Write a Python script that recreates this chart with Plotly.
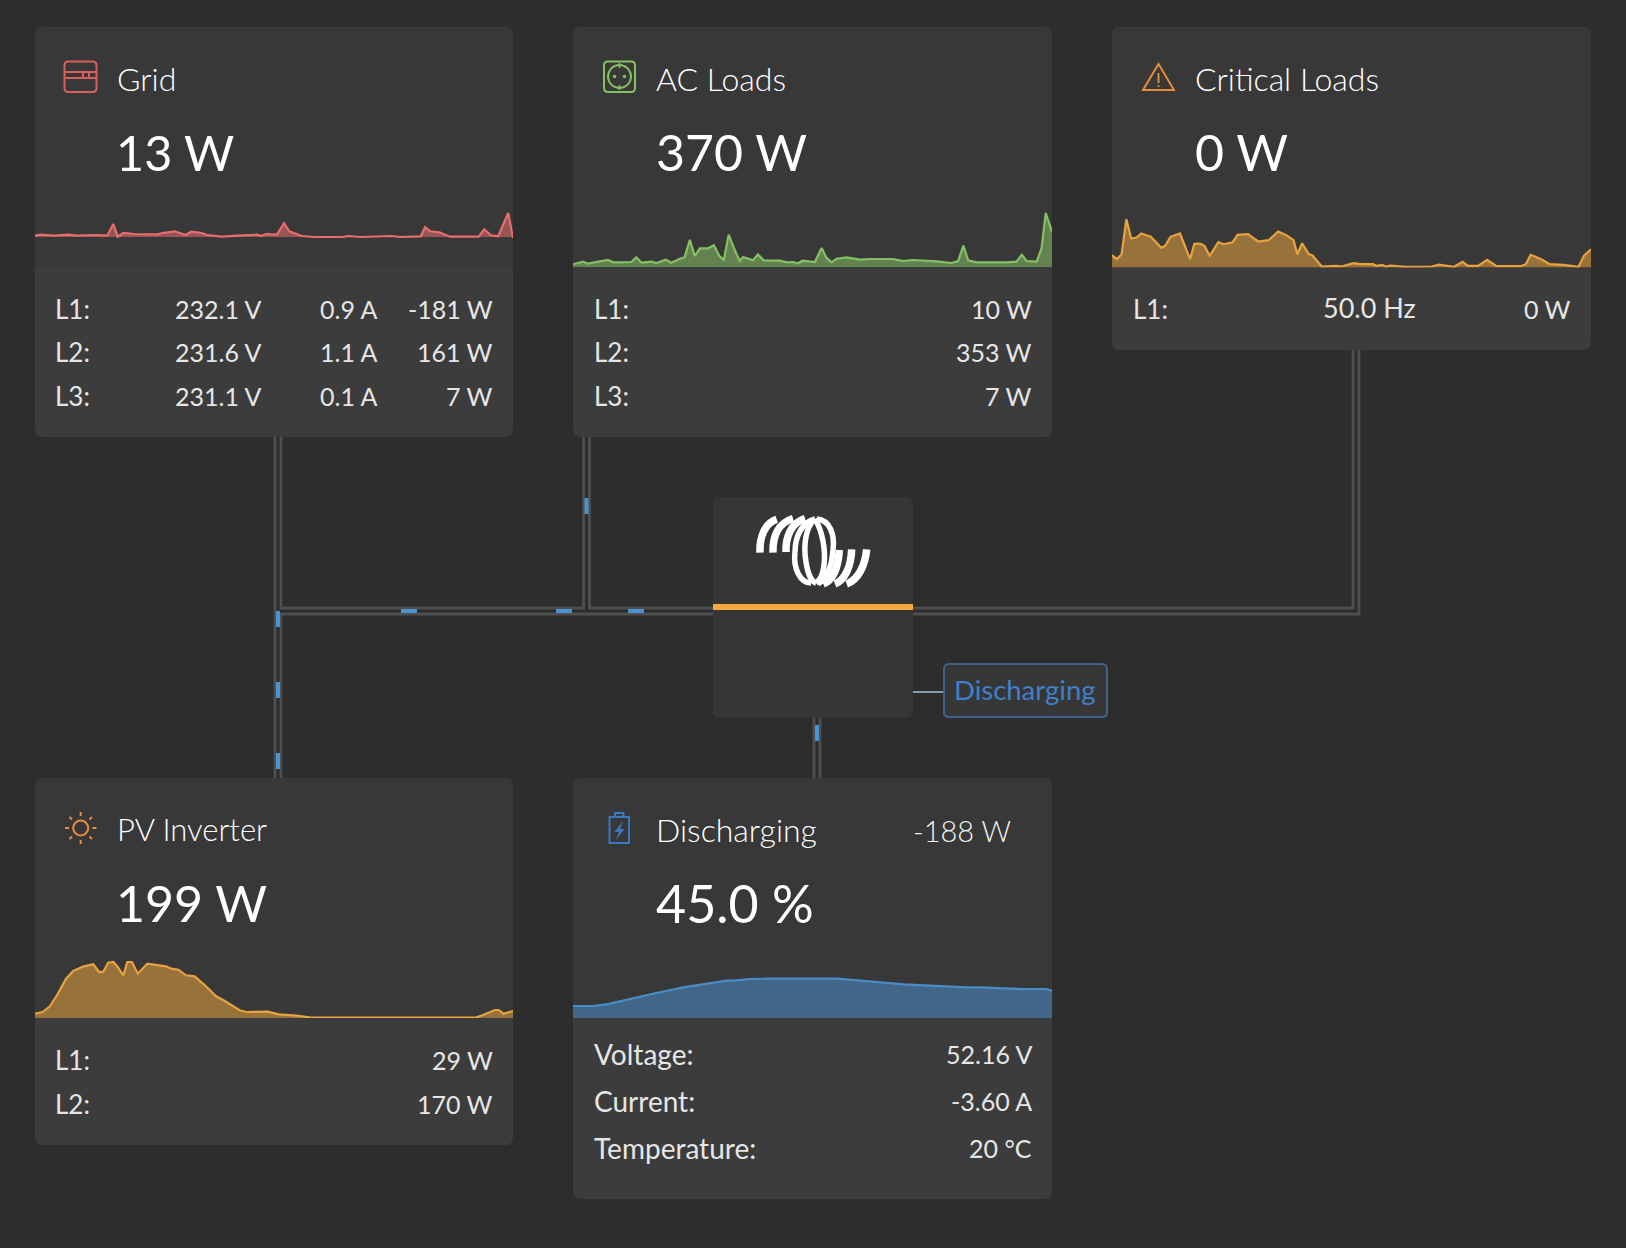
import plotly.graph_objects as go

W, H = 1626, 1248

# -------------------------------------------------
# Sparkline readings (x = % of the history window, y = height)
# -------------------------------------------------

grid_x = [0, 1.3, 2.4, 3.9, 6.9, 8.7, 12.9, 15.1, 16.4, 17.3, 18.5, 20.7, 25.6, 26.7, 29.3, 31.5, 32.7, 34.9, 36, 39,
          43.5, 46.5, 47.2, 48.4, 50.6, 52.1, 53.2, 55.8, 58.4, 64.4, 65.5, 68.2, 74.5, 76.4, 80.7, 81.6, 82.7, 84.6,
          86.8, 92.8, 94, 95.4, 96.9, 99, 100]
grid_y = [1.3, 2.3, 2, 1.3, 2.3, 1.3, 2, 1.3, 13, 0.3, 4, 3, 2.7, 4, 5.7, 2, 5.3, 4, 2, 0.3,
          1.7, 2.3, 1, 3, 2.3, 13.7, 5.7, 1, 0, 0, 1, 0, 1, 0, 0.7, 9.7, 5.7, 4.7,
          0.3, 0.3, 7.7, 1.7, 0.7, 24, -1]

ac_x = [0, 2.1, 3.1, 6.3, 7.3, 8.4, 12.2, 13.2, 14.3, 16.4, 17.4, 19.4, 20.5, 22.3, 23.3, 24.4, 25.4, 26.5, 28.2, 29.4,
        30.6, 31.5, 32.5, 33.8, 34.8, 35.5, 37.6, 38.6, 39.8, 43.2, 44.6, 46, 47, 47.9, 50.5, 51.9, 52.9, 54, 55, 57.1,
        59.9, 62, 66.9, 68.9, 71, 75.9, 79, 80.4, 81.5, 82.5, 84.3, 90.5, 92.6, 93.7, 94.7, 96.8, 97.8, 98.7, 99.6, 100]
ac_y = [2.7, 5.3, 3.3, 6.7, 7, 4.7, 5, 9.7, 4.3, 5.3, 4, 7.3, 4.3, 8.3, 9.7, 27.3, 11, 18.7, 18.7, 21.7,
        10.7, 7.3, 32.3, 16.7, 6, 10, 6.7, 12.7, 6.7, 6.3, 4.7, 5, 3.7, 6.3, 5, 19, 9.3, 4.7, 8.3, 9.7,
        7.3, 8, 8, 6, 7, 5.7, 4, 6, 21.3, 6.7, 4.7, 4.7, 5.3, 12.3, 6, 5.3, 18.3, 54, 40, 35]

critical_x = [0, 1, 2, 3, 4, 5.1, 6.1, 8.1, 10.3, 11.1, 12.2, 14.2, 16.3, 17.2, 18.4, 19.3, 20.4, 22.2, 23.3, 25.2,
              26.2, 28.4, 30.5, 32.7, 34.7, 36.4, 37.9, 38.7, 39.7, 41.1, 41.8, 43.8, 46.8, 47.9, 50.4, 51.8, 54.5,
              55.2, 56.4, 57.1, 58.2, 61.1, 66.8, 68.2, 71.4, 73.2, 74.3, 76.4, 78.3, 80.3, 85.3, 86.4, 87.4, 89.6,
              91.4, 94.2, 97.4, 98.5, 100]
critical_y = [12.3, 8.3, 13.3, 48.3, 29, 30, 34, 30.7, 19.7, 21.7, 30.7, 34, 8.3, 23.7, 24, 21.7, 11.7, 25.3, 23.3, 25.3,
              32.7, 33.3, 26, 27.3, 36, 32.3, 27.3, 13.3, 24.3, 13.3, 12.3, 1, 1.7, 1, 4.3, 3.3, 3.3,
              1.7, 2.7, 1, 2, 0.7, 1, 3, 0.7, 5.7, 1.7, 1.7, 7.7, 1.3, 1.3, 3.3, 12.7, 8.3,
              3.3, 2.7, 0.7, 11.7, 18.3]

pv_x = [0, 1.6, 3.1, 4.6, 6.5, 8, 10.2, 12.2, 13.4, 14.3, 15.3, 16.4, 17.3, 18.5, 19.3, 20.3, 21.5, 23.5, 27.4, 28.5,
        30, 31.6, 33.4, 35.7, 37.9, 39.8, 42.8, 44.3, 48.7, 51, 54.7, 57.7, 92.1, 93.6, 96.2, 97, 98, 100]
pv_y = [4.3, 6, 11.7, 22.7, 39.3, 47, 51.7, 53.7, 46, 46.3, 55.3, 56, 51, 42.7, 56, 56, 44.3, 54.3, 51.7, 49.3,
        48.3, 42.7, 41.7, 32, 21.7, 16.7, 7.7, 6, 6.3, 3.7, 2.3, 0.3, 0.3, 2.7, 8, 8, 4.3, 7]

battery_x = [0, 4.2, 7, 10.5, 14.6, 17.4, 23, 32.1, 33.5, 37, 40.4, 55.1, 60, 69, 82.3, 85, 93.5, 98.7, 100]
battery_y = [12, 12, 13.7, 17.7, 21.7, 25, 30.7, 37.3, 37.3, 39, 39.3, 39.3, 37.3, 33.7, 30.7, 30.7, 29, 29, 27.3]

# -------------------------------------------------
# Colours
# -------------------------------------------------

BG = "#2e2d2d"
CARD_TOP = "#383838"
CARD_BOTTOM = "#3c3c3c"
WIRE = "#4f4f4f"
FLOW = "#4a94d4"
RED = "#e86e6e"
GREEN = "#86c065"
ORANGE = "#e8a23e"
BLUE = "#4a8cc8"
ICON_RED = "#d95f5f"
ICON_ORANGE = "#e48d3a"
ICON_BLUE = "#3c79c2"
TITLE = "#ffffff"
DETAIL = "#e6e6e6"
FONT = "Lato"

shapes = []
annotations = []


# -------------------------------------------------
# Helpers
# -------------------------------------------------

def rounded(x0, y0, x1, y1, r_top=8, r_bottom=8):
    return (
        f"M {x0 + r_top} {y0} L {x1 - r_top} {y0} Q {x1} {y0} {x1} {y0 + r_top} "
        f"L {x1} {y1 - r_bottom} Q {x1} {y1} {x1 - r_bottom} {y1} "
        f"L {x0 + r_bottom} {y1} Q {x0} {y1} {x0} {y1 - r_bottom} "
        f"L {x0} {y0 + r_top} Q {x0} {y0} {x0 + r_top} {y0} Z"
    )


def add_path(path, fill=None, line=None, width=0, layer="above"):
    shapes.append(dict(
        type="path", path=path, xref="x", yref="y", layer=layer,
        fillcolor=fill if fill else "rgba(0,0,0,0)",
        line=dict(color=line if line else "rgba(0,0,0,0)", width=width),
    ))


def add_rect(x0, y0, x1, y1, color, layer="below"):
    shapes.append(dict(
        type="rect", x0=x0, y0=y0, x1=x1, y1=y1, xref="x", yref="y", layer=layer,
        fillcolor=color, line=dict(width=0),
    ))


def add_circle(cx, cy, r, line=None, width=2, fill=None):
    shapes.append(dict(
        type="circle", x0=cx - r, y0=cy - r, x1=cx + r, y1=cy + r, xref="x", yref="y",
        fillcolor=fill if fill else "rgba(0,0,0,0)",
        line=dict(color=line if line else "rgba(0,0,0,0)", width=width),
    ))


def add_text(x, y, text, size, color=DETAIL, anchor="left", weight=400):
    annotations.append(dict(
        x=x, y=y, xref="x", yref="y", text=text, showarrow=False, xanchor=anchor, yanchor="middle",
        font=dict(family=FONT, size=size, color=color, weight=weight),
    ))


def add_card(x0, y0, x1, y1, split):
    add_path(rounded(x0, y0, x1, y1), fill=CARD_BOTTOM, layer="below")
    add_path(rounded(x0, y0, x1, split, 8, 0), fill=CARD_TOP, layer="below")


def add_wire(points):
    path = "M " + " L ".join(f"{x} {y}" for x, y in points)
    add_path(path, line=WIRE, width=2.8, layer="below")


fig = go.Figure()


def add_spark(n, x0, x1, y_top, y_bottom, low, xs, ys, color, fill):
    fig.add_trace(go.Scatter(
        x=xs, y=ys, xaxis=f"x{n}", yaxis=f"y{n}", mode="lines", fill="tozeroy",
        fillcolor=fill, line=dict(color=color, width=2.2), hoverinfo="skip", showlegend=False,
    ))
    fig.update_layout(**{
        f"xaxis{n}": dict(domain=[x0 / W, x1 / W], range=[0, 100], visible=False, fixedrange=True, anchor=f"y{n}"),
        f"yaxis{n}": dict(domain=[1 - y_bottom / H, 1 - y_top / H], range=[low, low + y_bottom - y_top],
                          visible=False, fixedrange=True, anchor=f"x{n}"),
    })


# -------------------------------------------------
# Wires
# -------------------------------------------------

add_wire([(275, 437), (275, 778)])
add_wire([(281, 437), (281, 608), (583.5, 608), (583.5, 437)])
add_wire([(589.5, 437), (589.5, 608), (713, 608)])
add_wire([(281, 778), (281, 614), (713, 614)])
add_wire([(913, 608), (1353, 608), (1353, 350)])
add_wire([(913, 614), (1359, 614), (1359, 350)])
add_wire([(814, 718), (814, 778)])
add_wire([(820, 718), (820, 778)])

# flow markers
for y0 in [611, 682, 753]:
    add_rect(276, y0, 280, y0 + 16, FLOW)
add_rect(584.5, 498, 588.5, 514, FLOW)
for x0 in [401, 556, 628]:
    add_rect(x0, 609, x0 + 16, 613, FLOW)
add_rect(815, 725, 819, 741, FLOW)

# -------------------------------------------------
# Cards
# -------------------------------------------------

add_card(35, 27, 513, 437, 267)
add_card(573, 27, 1052, 437, 267)
add_card(1112, 27, 1591, 350, 267)
add_card(35, 778, 513, 1145, 1018)
add_card(573, 778, 1052, 1199, 1018)

add_spark(2, 35, 513, 197, 267, -30, grid_x, grid_y, RED, "rgba(232,110,110,0.55)")
add_spark(3, 573, 1052, 197, 267, 0, ac_x, ac_y, GREEN, "rgba(134,192,101,0.55)")
add_spark(4, 1112, 1591, 197, 267.5, 0, critical_x, critical_y, ORANGE, "rgba(232,162,62,0.55)")
add_spark(5, 35, 513, 948, 1018, 0, pv_x, pv_y, ORANGE, "rgba(232,162,62,0.55)")
add_spark(6, 573, 1052, 948, 1018, 0, battery_x, battery_y, BLUE, "rgba(74,140,200,0.55)")

# -------------------------------------------------
# Center unit and status box
# -------------------------------------------------

add_path(rounded(713, 497, 913, 718), fill="#363636", layer="below")
add_rect(713, 604, 913, 610, "#f5a93f")
add_path("M 913 692 L 943 692", line="#a9c1dc", width=1.5)
add_path(rounded(944, 664, 1107, 717, 5, 5), fill="#373737", line="#3d638c", width=2)
add_text(1025, 689, "Discharging", 27.5, "#3f80c8", "center")

# logo
LOGO_STROKES = [
    "M 760 552.7 C 759.3 536.7 765 523.3 776.7 519.3",
    "M 773 552.7 C 772.5 536.7 778 523 793 518.5",
    "M 786 552 C 785.5 536.7 791 523 805 518.5",
    "M 823.3 584 C 833.3 580 838.3 566.7 839.3 550",
    "M 835 584 C 845 580 851 566.7 851.7 549.3",
    "M 846.7 584 C 858 580 865 566 866.7 549.3",
]
LOGO_RINGS = [
    "M 795 552 C 795 535 803 522 815 519",
    "M 795 552 C 793 568 800 583 811 583",
    "M 817 519 C 830 520 835 535 833 550",
    "M 833 550 C 832 565 827 578 818 584",
    "M 815 519 C 806 526 803 545 806 562 C 808 575 812 582 816 583",
    "M 815 519 C 822 530 826 550 824 565 C 823 575 820 580 816 583",
]
for p in LOGO_STROKES:
    add_path(p, line="#ffffff", width=7.5)
for p in LOGO_RINGS:
    add_path(p, line="#ffffff", width=5.5)

# -------------------------------------------------
# Icons
# -------------------------------------------------

# grid
add_path(rounded(64.5, 61.5, 96.5, 92, 4, 4), line=ICON_RED, width=2)
add_path("M 64.5 72 L 96.5 72 M 64.5 78 L 96.5 78 M 83 72 L 83 78 M 89 72 L 89 78", line=ICON_RED, width=2)

# ac socket
add_path(rounded(604, 61.5, 635, 92, 4, 4), line=GREEN, width=2)
add_circle(619.5, 76.5, 11.5, line=GREEN)
add_circle(614.5, 76.5, 1.8, fill=GREEN, width=0)
add_circle(624.5, 76.5, 1.8, fill=GREEN, width=0)
add_path("M 619.5 63 L 619.5 68 M 619.5 85 L 619.5 90", line=GREEN, width=1.5)

# critical loads triangle
add_path("M 1158.5 64 L 1174 90 L 1143 90 Z", line=ICON_ORANGE, width=2)
add_path("M 1158.5 73 L 1158.5 83", line=ICON_ORANGE, width=2)
add_circle(1158.5, 86, 1.1, fill=ICON_ORANGE, width=0)

# pv sun
add_circle(80.7, 828, 7.5, line=ICON_ORANGE)
add_path(
    "M 80.7 812 L 80.7 816 M 80.7 840 L 80.7 844 M 65 828 L 69 828 M 92.5 828 L 96.5 828 "
    "M 69.5 817 L 72 819.5 M 89.5 836.5 L 92 839 M 92 817 L 89.5 819.5 M 72 836.5 L 69.5 839",
    line=ICON_ORANGE, width=2,
)

# battery
add_path("M 609.5 817 L 629 817 L 629 843 L 609.5 843 Z", line=ICON_BLUE, width=2)
add_path("M 615 817 L 615 813 L 623.5 813 L 623.5 817", line=ICON_BLUE, width=2)
add_path("M 623 821 L 614.5 832 L 619 832 L 616 840 L 624.5 829 L 620 829 Z", fill=ICON_BLUE)

# -------------------------------------------------
# Text
# -------------------------------------------------

TITLE_SIZE, BIG_SIZE, ROW_SIZE, LABEL_SIZE = 32, 50, 25, 28

add_text(115, 78, "Grid", TITLE_SIZE, TITLE, weight=300)
add_text(114, 152, "13 W", 48.5, "#ffffff")
add_text(654, 78, "AC Loads", TITLE_SIZE, TITLE, weight=300)
add_text(654, 152, "370 W", BIG_SIZE, "#ffffff")
add_text(1193, 78, "Critical Loads", TITLE_SIZE, TITLE, weight=300)
add_text(1193, 152, "0 W", BIG_SIZE, "#ffffff")
add_text(115, 829, "PV Inverter", 31, TITLE, weight=300)
add_text(114, 903, "199 W", BIG_SIZE, "#ffffff")
add_text(654, 829, "Discharging", TITLE_SIZE, TITLE, weight=300)
add_text(1013, 830, "-188 W", 29, "#f2f2f2", "right", 300)
add_text(654, 903, "45.0 %", 52, "#ffffff")

grid_rows = [("L1:", "232.1 V", "0.9 A", "-181 W", 308.5),
             ("L2:", "231.6 V", "1.1 A", "161 W", 352),
             ("L3:", "231.1 V", "0.1 A", "7 W", 395.5)]
for name, volts, amps, watts, y in grid_rows:
    add_text(53, y, name, 26)
    add_text(263, y, volts, ROW_SIZE, anchor="right")
    add_text(379, y, amps, ROW_SIZE, anchor="right")
    add_text(495, y, watts, ROW_SIZE, anchor="right")

ac_rows = [("L1:", "10 W", 308.5), ("L2:", "353 W", 352), ("L3:", "7 W", 395.5)]
for name, watts, y in ac_rows:
    add_text(592, y, name, 26)
    add_text(1034, y, watts, ROW_SIZE, anchor="right")

add_text(1131, 308.5, "L1:", 26)
add_text(1418, 307.5, "50.0 Hz", 27, anchor="right")
add_text(1573, 308.5, "0 W", ROW_SIZE, anchor="right")

pv_rows = [("L1:", "29 W", 1060), ("L2:", "170 W", 1104)]
for name, watts, y in pv_rows:
    add_text(53, y, name, 26)
    add_text(495, y, watts, ROW_SIZE, anchor="right")

battery_rows = [("Voltage:", "52.16 V", 1053.5), ("Current:", "-3.60 A", 1100.5), ("Temperature:", "20 °C", 1147.5)]
for name, value, y in battery_rows:
    add_text(592, y, name, LABEL_SIZE)
    add_text(1034, y, value, ROW_SIZE, anchor="right")

# -------------------------------------------------
# Layout
# -------------------------------------------------

fig.add_trace(go.Scatter(x=[0], y=[0], mode="markers", marker=dict(opacity=0), hoverinfo="skip", showlegend=False))

fig.update_layout(
    width=W,
    height=H,
    margin=dict(l=0, r=0, t=0, b=0),
    paper_bgcolor=BG,
    plot_bgcolor="rgba(0,0,0,0)",
    xaxis=dict(domain=[0, 1], range=[0, W], visible=False, fixedrange=True),
    yaxis=dict(domain=[0, 1], range=[H, 0], visible=False, fixedrange=True),
    shapes=shapes,
    annotations=annotations,
)

fig.write_html(
    "out.html",
    config={"displayModeBar": False},
    post_script="document.body.style.margin='0';document.body.style.background='" + BG + "';",
)
